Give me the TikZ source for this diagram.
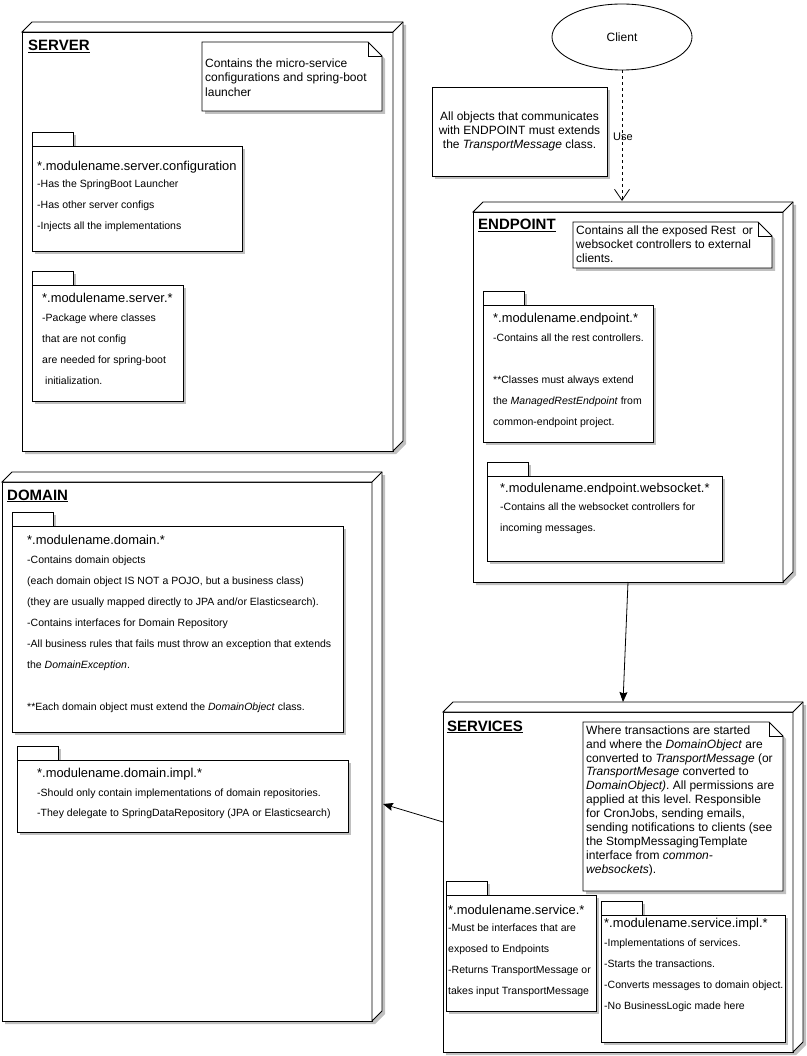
\documentclass[tikz,border=0pt]{standalone}
\usepackage{fontspec}
\setmainfont{Liberation Sans}
\usetikzlibrary{arrows.meta,calc,shapes.geometric}
\frenchspacing
\definecolor{shadowgray}{HTML}{C0C0C0}
\tikzset{
  face/.style={draw=black, fill=white, line width=0.85pt, line join=miter},
  shadowfill/.style={fill=shadowgray, draw=none},
  nodelabel/.style={anchor=base west, inner sep=0, font=\fontsize{15}{18}\selectfont\bfseries},
  pkgtitle/.style={anchor=base west, inner sep=0, font=\fontsize{12.9}{15}\selectfont},
  pkgbody/.style={anchor=north west, inner sep=0, align=left, font=\fontsize{10.5}{20.9}\selectfont},
  notetext/.style={anchor=north west, inner sep=0, align=left, font=\fontsize{12}{14}\selectfont},
  depend/.style={draw, line width=0.8pt, dash pattern=on 3pt off 3pt, -{Straight Barb[length=11pt,width=15pt]}},
  assoc/.style={draw, line width=0.8pt, -{Stealth[length=10pt,width=8pt,inset=1.5pt]}},
}
% 3D UML node: name, x, y, w, h (front face)
\newcommand\nodethreed[5]{%
  \fill[shadowfill] (#2+3,#3+3) -- ++(10,-10) -- ++(#4,0) -- ++(0,#5) -- ++(-10,10) -- ++(-#4,0) -- cycle;
  \node[face, anchor=north west, minimum width=#4pt, minimum height=#5pt, inner sep=0, outer sep=0] (#1) at (#2,#3) {};
  \draw[face] (#1.north west) -- ++(10,-10) -- ++(#4,0) -- ++(0,#5) -- (#1.south east) -- (#1.north east) -- cycle;
  \draw[face] (#1.north east) -- ++(10,-10);
}
% UML package: name, x, y (tab top), w, h (body)
\newcommand\pkgshape[5]{%
  \fill[shadowfill] (#2+3,#3+3) rectangle ++(41,14);
  \fill[shadowfill] (#2+3,#3+17) rectangle ++(#4,#5);
  \draw[face] (#2,#3) rectangle ++(41,14);
  \node[face, anchor=north west, minimum width=#4pt, minimum height=#5pt, inner sep=0, outer sep=0] (#1) at (#2,#3+14) {};
}
% note with folded corner: x1, y1, x2, y2
\newcommand\notefold[4]{%
  \fill[shadowfill] (#1+3,#2+3) -- (#3-11,#2+3) -- (#3+3,#2+17) -- (#3+3,#4+3) -- (#1+3,#4+3) -- cycle;
  \draw[face] (#1,#2) -- (#3-14,#2) -- (#3,#2+14) -- (#3,#4) -- (#1,#4) -- cycle;
  \draw[face, fill=none] (#3-14,#2) -- (#3-14,#2+14) -- (#3,#2+14);
}
\begin{document}
\begin{tikzpicture}[x=1pt, y=-1pt]
\useasboundingbox (0,0) rectangle (806,1056);
\fill[white] (0,0) rectangle (806,1056);

% ---------------- SERVER ----------------
\nodethreed{srv}{22}{32}{371}{419}
\node[nodelabel] (srvlbl) at (28,51) {\underline{SERVER}};
\notefold{202}{42}{382}{111}
\node[notetext, font=\fontsize{12}{14.5}\selectfont] (srvnote) at (205,58) {\rule{0pt}{9pt}Contains the micro-service\\configurations and spring-boot\\launcher};

\pkgshape{cfgpk}{32}{132}{210}{105}
\node[pkgtitle] (cfgtitle) at (37,170.3) {*.modulename.server.configuration};
\node[pkgbody] (cfgbody) at (37,180) {\rule{0pt}{7.5pt}-Has the SpringBoot Launcher\\-Has other server configs\\-Injects all the implementations};

\pkgshape{srvpk}{32}{271}{151}{116}
\node[pkgtitle] (srvtitle) at (42,302.3) {*.modulename.server.*};
\node[pkgbody] (srvbody) at (42,314) {\rule{0pt}{7.5pt}-Package where classes\\that are not config\\are needed for spring-boot\\\hspace*{3pt}initialization.};

% ---------------- ENDPOINT ----------------
\nodethreed{ep}{473}{212}{310}{370}
\node[nodelabel] (eplbl) at (478,230) {\underline{ENDPOINT}};
\notefold{573}{222}{772}{268}
\node[notetext] (epnote) at (576,225) {\rule{0pt}{9pt}Contains all the exposed Rest\ \ or\\websocket controllers to external\\clients.};

\pkgshape{eppk}{483}{291}{170}{137}
\node[pkgtitle] (eptitle) at (493,322.3) {*.modulename.endpoint.*};
\node[pkgbody] (epbody) at (493,334) {\rule{0pt}{7.5pt}-Contains all the rest controllers.\\\mbox{}\\**Classes must always extend\\the \textit{ManagedRestEndpoint} from\\common-endpoint project.};

\pkgshape{wspk}{487}{462}{235}{85}
\node[pkgtitle] (wstitle) at (500,492.3) {*.modulename.endpoint.websocket.*};
\node[pkgbody] (wsbody) at (500,503) {\rule{0pt}{7.5pt}-Contains all the websocket controllers for\\incoming messages.};

% ---------------- DOMAIN ----------------
\nodethreed{dm}{2}{482}{370}{539}
\node[nodelabel] (dmlbl) at (7,500) {\underline{DOMAIN}};

\pkgshape{dmpk}{12}{512}{331}{206}
\node[pkgtitle] (dmtitle) at (27,544.3) {*.modulename.domain.*};
\node[pkgbody, font=\fontsize{10.5}{21}\selectfont] (dmbody) at (27,556) {\rule{0pt}{7.5pt}-Contains domain objects\\(each domain object IS NOT a POJO, but a business class)\\(they are usually mapped directly to JPA and/or Elasticsearch).\\-Contains interfaces for Domain Repository\\-All business rules that fails must throw an exception that extends\\the \textit{DomainException}.\\\mbox{}\\**Each domain object must extend the \textit{DomainObject} class.};

\pkgshape{dipk}{17}{746}{331}{72}
\node[pkgtitle] (dititle) at (37,777.3) {*.modulename.domain.impl.*};
\node[pkgbody, font=\fontsize{10.5}{20}\selectfont] (dibody) at (37,789) {\rule{0pt}{7.5pt}-Should only contain implementations of domain repositories.\\-They delegate to SpringDataRepository (JPA or Elasticsearch)};

% ---------------- SERVICES ----------------
\nodethreed{sv}{443}{712}{350}{340}
\node[nodelabel] (svlbl) at (447,731) {\underline{SERVICES}};
\notefold{583}{722}{783}{891}
\node[notetext, font=\fontsize{12}{13.9}\selectfont] (svnote) at (586,725) {\rule{0pt}{9pt}Where transactions are started\\and where the \textit{DomainObject} are\\converted to \textit{TransportMessage} (or\\\textit{TransportMesage} converted to\\\textit{DomainObject)}. All permissions are\\applied at this level. Responsible\\for CronJobs, sending emails,\\sending notifications to clients (see\\the StompMessagingTemplate\\interface from \textit{common-}\\\textit{websockets}).};

\pkgshape{svpk}{446}{881}{150}{116}
\node[pkgtitle] (svtitle) at (448,914.3) {*.modulename.service.*};
\node[pkgbody] (svbody) at (448,924) {\rule{0pt}{7.5pt}-Must be interfaces that are\\exposed to Endpoints\\-Returns TransportMessage or\\takes input TransportMessage};

\pkgshape{sipk}{601}{901}{184}{127}
\node[pkgtitle] (sititle) at (604,927.3) {*.modulename.service.impl.*};
\node[pkgbody] (sibody) at (604,939) {\rule{0pt}{7.5pt}-Implementations of services.\\-Starts the transactions.\\-Converts messages to domain object.\\-No BusinessLogic made here};

% ---------------- Client & note ----------------
\node[face, ellipse, minimum width=140pt, minimum height=66pt, inner sep=0, font=\fontsize{12}{14}\selectfont] (client) at (622,37) {Client};

\fill[shadowfill] (435,90) rectangle (610,179);
\node[face, minimum width=175pt, minimum height=89pt, inner sep=0, align=center, font=\fontsize{12}{14}\selectfont] (objnote) at (519.5,131.5) {All objects that communicates\\with ENDPOINT must extends\\the \textit{TransportMessage} class.};

% ---------------- connectors ----------------
\coordinate (eptop) at (622,201);
\coordinate (svtop) at (623,702);
\coordinate (svw) at (443,822);
\coordinate (dme) at (383,804);
\draw[depend] (client.south) -- (eptop);
\node[anchor=west, inner sep=0, font=\fontsize{11}{13}\selectfont] (uselbl) at (613,137) {Use};
\draw[assoc] (ep.south) -- (svtop);
\draw[assoc] (svw) -- (dme);
\end{tikzpicture}
\end{document}
